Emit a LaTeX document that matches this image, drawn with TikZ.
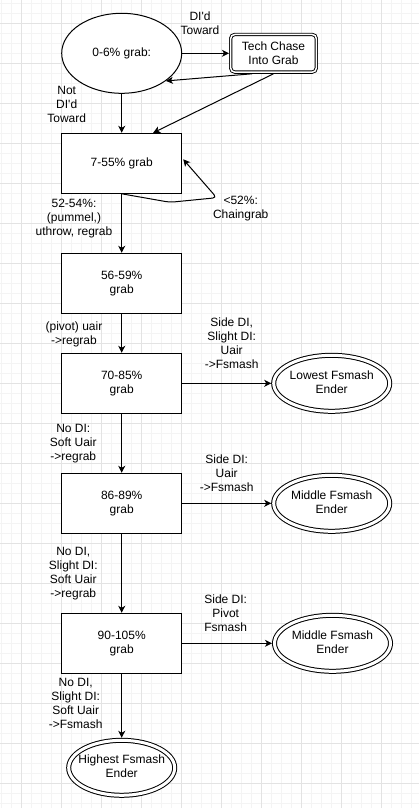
\documentclass[tikz,border=0pt]{standalone}
\usepackage{fontspec}
\newfontfamily\dfont{Liberation Sans}
\usetikzlibrary{arrows.meta,shapes.geometric,calc}
\definecolor{gmaj}{HTML}{E3E3E3}
\definecolor{gmin}{HTML}{F4F4F4}
\newcommand{\zt}[1]{\makebox[0pt][c]{\begin{tabular}{@{}c@{}}#1\end{tabular}}}
\begin{document}
\begin{tikzpicture}[x=1pt,y=-1pt,
  every node/.style={font=\dfont\fontsize{12}{14}\selectfont, align=center, inner sep=0pt},
  boxnode/.style={draw, line width=1pt, rectangle, minimum width=120pt, minimum height=60pt, fill=white},
  startell/.style={draw, line width=1pt, ellipse, minimum width=120pt, minimum height=80pt, fill=white},
  endell/.style={draw, line width=1pt, ellipse, double, double distance=3pt, fill=white, minimum width=116pt, minimum height=56pt, outer sep=2.5pt},
  chasebox/.style={draw, line width=0.9pt, rectangle, rounded corners=4pt, double, double distance=1.5pt, fill=white, minimum width=85.6pt, minimum height=37.6pt, outer sep=1.7pt},
  arr/.style={-{Stealth[length=7pt,width=7pt,inset=2pt]}, line width=1pt},
  lbl/.style={}
]
\useasboundingbox (0,0) rectangle (419,808);
\fill[white] (0,0) rectangle (419,808);
\foreach \x in {1.3,11.3,...,419} \draw[gmin, line width=0.8pt] (\x,0) -- (\x,808);
\foreach \y in {3.3,13.3,...,808} \draw[gmin, line width=0.8pt] (0,\y) -- (419,\y);
\foreach \x in {21.3,61.3,...,419} \draw[gmaj, line width=0.8pt] (\x,0) -- (\x,808);
\foreach \y in {23.3,63.3,...,808} \draw[gmaj, line width=0.8pt] (0,\y) -- (419,\y);

\node[startell] (e0) at (121.7,53.3) {0-6\% grab:};
\node[chasebox] (tc) at (273.5,53.3) {Tech Chase\\Into Grab};
\node[boxnode] (b1) at (121.7,163.3) {7-55\% grab};
\node[boxnode] (b2) at (121.7,283.3) {56-59\%\\grab};
\node[boxnode] (b3) at (121.7,383.3) {70-85\%\\grab};
\node[boxnode] (b4) at (121.7,503.3) {86-89\%\\grab};
\node[boxnode] (b5) at (121.7,643.3) {90-105\%\\grab};
\node[endell] (lo) at (331.7,383.3) {\zt{Lowest Fsmash\\Ender}};
\node[endell] (mi1) at (331.7,503.3) {\zt{Middle Fsmash\\Ender}};
\node[endell] (mi2) at (332.5,643.3) {\zt{Middle Fsmash\\Ender}};
\node[endell, minimum width=106pt, minimum height=55pt] (hi) at (121.7,767.8) {\zt{Highest Fsmash\\Ender}};

\draw[arr] (e0.east) -- (tc.west);
\draw[arr] ($(tc.south west)!0.26!(tc.south east)$) -- (e0.-32);
\draw[arr] (tc.south) -- ($(b1.north west)!0.76!(b1.north east)$);
\draw[arr] (e0.south) -- (b1.north);
\draw[arr, rounded corners=4pt] (b1.south) -- (170,202.3) -- (216.7,197.7) -- ($(b1.east)+(1,-4)$);
\draw[arr] (b1.south) -- (b2.north);
\draw[arr] (b2.south) -- (b3.north);
\draw[arr] (b3.east) -- (lo.west);
\draw[arr] (b3.south) -- (b4.north);
\draw[arr] (b4.east) -- (mi1.west);
\draw[arr] (b4.south) -- (b5.north);
\draw[arr] (b5.east) -- (mi2.west);
\draw[arr] (b5.south) -- (hi.north);

\node[lbl] (l1) at (200,23.5) {DI'd\\Toward};
\node[lbl] (l2) at (66.7,104) {Not\\DI'd\\Toward};
\node[lbl] (l3) at (74,219) {52-54\%:\\(pummel,)\\uthrow, regrab};
\node[lbl] (l4) at (240.7,209) {<52\%:\\Chaingrab};
\node[lbl] (l5) at (74,334) {(pivot) uair\\->regrab};
\node[lbl] (l6) at (231.7,343.5) {Side DI,\\Slight DI:\\Uair\\->Fsmash};
\node[lbl] (l7) at (73.3,443.5) {No DI:\\Soft Uair\\->regrab};
\node[lbl] (l8) at (226.7,473.7) {Side DI:\\Uair\\->Fsmash};
\node[lbl] (l9) at (73.3,573.5) {No DI,\\Slight DI:\\Soft Uair\\->regrab};
\node[lbl] (l10) at (225.7,613.7) {Side DI:\\Pivot\\Fsmash};
\node[lbl] (l11) at (75.7,703.7) {No DI,\\Slight DI:\\Soft Uair\\->Fsmash};
\end{tikzpicture}
\end{document}
